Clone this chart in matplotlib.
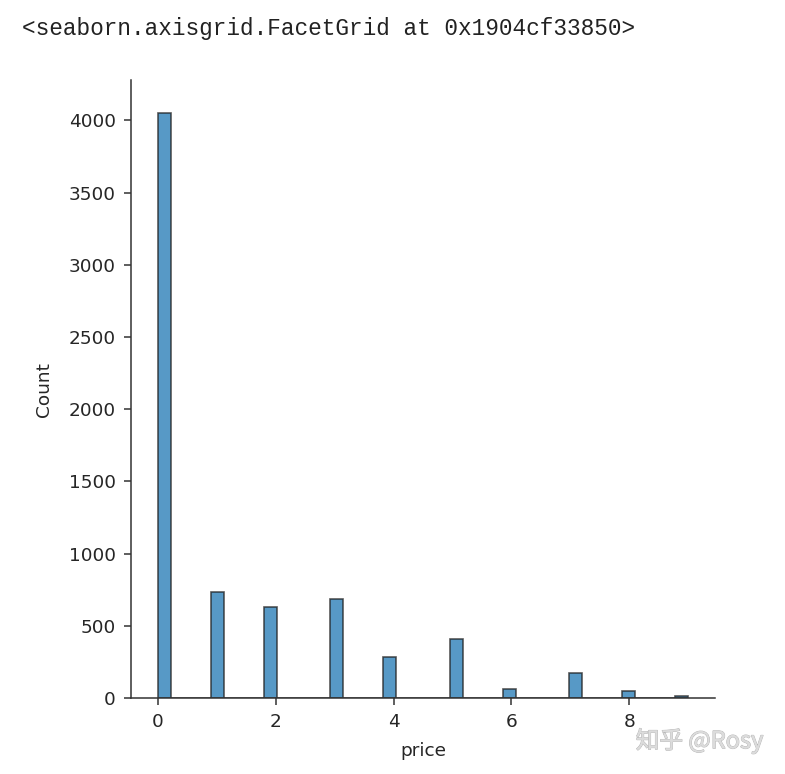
import numpy as np
import matplotlib.pyplot as plt
import matplotlib.patheffects as pe

# data
price = [0, 1, 2, 3, 4, 5, 6, 7, 8, 9]
count = [4055, 734, 627, 683, 282, 406, 62, 171, 48, 15]

header = '<seaborn.axisgrid.FacetGrid at 0x1904cf33850>'

fig = plt.figure(figsize=(7.85, 7.74), dpi=100)
ax = fig.add_axes([0.1669, 0.0982, 0.7439, 0.7984])

bins = np.linspace(0, 9, 41)
ax.hist(price, bins=bins, weights=count, color='#1f77b4', alpha=0.75,
        edgecolor='#222222', linewidth=1.2)

ax.set_xlim(-0.45, 9.45)
ax.set_ylim(0, 4280)
ax.set_xticks([0, 2, 4, 6, 8])
ax.set_yticks(np.arange(0, 4001, 500))

ax.spines['top'].set_visible(False)
ax.spines['right'].set_visible(False)
for s in ['left', 'bottom']:
    ax.spines[s].set_linewidth(1.1)
    ax.spines[s].set_color('#333333')

ax.tick_params(labelsize=13.3, length=5, width=1.1, pad=6, colors='#333333',
               labelcolor='#262626')
ax.set_xlabel('price', fontsize=13.3, color='#262626', labelpad=8)
ax.set_ylabel('Count', fontsize=13.3, color='#262626', labelpad=11)

fig.text(0.028, 0.963, header, fontsize=16.4, family='Liberation Mono',
         color='#222222', va='center', ha='left')

fig.text(0.81, 0.043, '知乎 @Rosy', fontsize=17,
         family=['Noto Sans CJK SC', 'DejaVu Sans'], color='#dcdcdc',
         va='center', ha='left',
         path_effects=[pe.withStroke(linewidth=0.8, foreground='#b4b4b4'),
                       pe.Normal()])

plt.savefig('out.png', dpi=100)
